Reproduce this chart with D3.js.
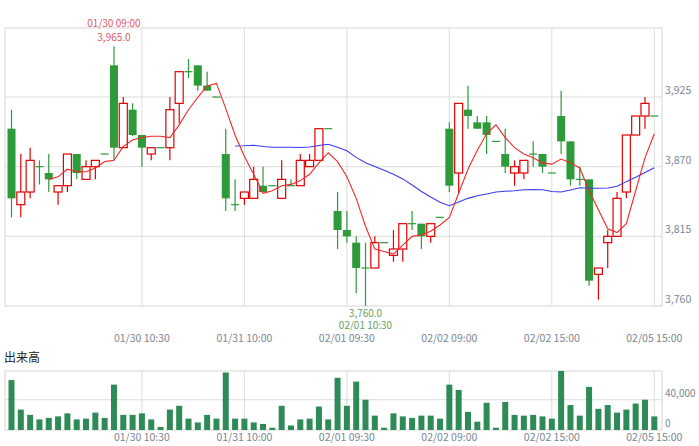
<!DOCTYPE html>
<html><head><meta charset="utf-8">
<script src="https://cdn.jsdelivr.net/npm/d3@7"></script>
<style>body{margin:0;background:#fff}text{font-family:"Noto Sans CJK JP","DejaVu Sans",sans-serif}</style>
</head><body><svg id="c" width="699" height="446"></svg>
<script>
const opens  = [3900,3840,3850,3870,3865,3850,3855,3880,3860,3870,3880,3950,3885,3915,3895,3880,3885,3885,3920,3945,3950,3934,3925,3880,3840,3845,3845,3855,3855,3845,3855,3855,3870,3875,3900,3835,3820,3810,3790,3790,3810,3800,3805,3825,3825,3815,3830,3900,3865,3915,3905,3905,3890,3880,3865,3865,3880,3880,3865,3910,3890,3860,3860,3785,3810,3815,3850,3895,3910,3910];
const highs  = [3915,3880,3885,3875,3880,3855,3880,3880,3875,3875,3880,3965,3925,3920,3895,3885,3885,3925,3945,3955,3950,3945,3925,3900,3860,3850,3870,3870,3855,3875,3860,3880,3880,3900,3900,3850,3835,3815,3810,3815,3810,3820,3825,3835,3825,3825,3830,3905,3920,3934,3910,3910,3890,3900,3875,3875,3890,3880,3865,3930,3890,3870,3860,3790,3820,3850,3895,3910,3925,3910];
const lows   = [3830,3830,3845,3856,3850,3840,3850,3860,3860,3860,3880,3875,3885,3894,3870,3875,3885,3875,3904,3940,3930,3930,3925,3835,3835,3840,3845,3850,3855,3845,3855,3855,3870,3875,3900,3805,3810,3770,3760,3790,3810,3795,3795,3820,3805,3810,3830,3850,3849,3900,3900,3880,3890,3865,3855,3860,3870,3865,3865,3880,3855,3855,3776,3765,3790,3815,3845,3895,3900,3910];
const closes = [3845,3850,3875,3870,3860,3855,3880,3865,3870,3875,3880,3885,3920,3895,3885,3885,3885,3915,3945,3945,3934,3930,3925,3845,3840,3850,3860,3850,3855,3860,3855,3875,3875,3900,3900,3820,3815,3790,3790,3810,3810,3805,3825,3825,3815,3825,3830,3855,3920,3910,3900,3895,3890,3870,3870,3875,3880,3870,3865,3890,3860,3860,3780,3790,3815,3845,3895,3910,3920,3910];
const volumes = [66000,27000,20000,14000,16000,18000,22000,14000,15000,23000,16000,60000,20000,20000,22000,14000,4000,27000,32000,15000,10000,20000,15000,76000,15000,15000,10000,8000,3000,32000,6000,14000,15000,31000,14000,69000,32000,64000,40000,19000,3000,22000,18000,16000,19000,19000,15000,60000,53000,24000,11000,36000,3000,37000,20000,19000,20000,18000,15000,78000,33000,19000,57000,28000,33000,23000,27000,35000,40000,18000];
const tickIdx = [14,25,36,47,58,69];
const tickLabels = ["01/30 10:30","01/31 10:00","02/01 09:30","02/02 09:00","02/02 15:00","02/05 15:00"];
const priceTicks = [3760,3815,3870,3925];
const volTicks = [0,40000];

function sma(n){return closes.map((c,i)=> i<n-1?null:d3.mean(closes.slice(i-n+1,i+1)));}
const ma5=sma(5), ma25=sma(25);

const svg=d3.select("#c");
const L=5,R=662,T=28,B=306,VT=371,VB=430;
const x=d3.scalePoint().domain(d3.range(70)).range([11.5,654.3]);
const y=d3.scaleLinear().domain([3760,3979.5]).range([B,T]);
const yv=d3.scaleLinear().domain([0,78000]).range([VB,VT]);
const grid="#dcdcdc", lab="#7a8696";

priceTicks.slice(1).forEach(v=>svg.append("line").attr("x1",L).attr("x2",R).attr("y1",y(v)).attr("y2",y(v)).attr("stroke",grid));
tickIdx.forEach(i=>{svg.append("line").attr("x1",x(i)).attr("x2",x(i)).attr("y1",T).attr("y2",B).attr("stroke",grid);
 svg.append("line").attr("x1",x(i)).attr("x2",x(i)).attr("y1",VT).attr("y2",VB).attr("stroke",grid);});
svg.append("rect").attr("x",L).attr("y",T).attr("width",R-L).attr("height",B-T).attr("fill","none").attr("stroke",grid).attr("stroke-width",1.2);
svg.append("line").attr("x1",L).attr("x2",R).attr("y1",yv(40000)).attr("y2",yv(40000)).attr("stroke",grid);
svg.append("rect").attr("x",L).attr("y",VT).attr("width",R-L).attr("height",VB-VT).attr("fill","none").attr("stroke",grid).attr("stroke-width",1.2);

priceTicks.forEach(v=>svg.append("text").attr("x",665).attr("y",y(v)-3).attr("font-size",10.5).attr("fill",lab).text(d3.format(",")(v)));
volTicks.forEach(v=>svg.append("text").attr("x",665).attr("y",yv(v)-3).attr("font-size",10).attr("fill",lab).text(d3.format(",")(v)));
tickIdx.forEach((i,k)=>{[342,441].forEach(yy=>svg.append("text").attr("x",x(i)).attr("y",yy).attr("text-anchor","middle").attr("font-size",10.5).attr("fill",lab).text(tickLabels[k]));});
svg.append("text").attr("x",4).attr("y",362).attr("font-size",12).attr("fill","#222").text("出来高");

const G="#2e9a3a", Rd="#e00000";
const g=svg.append("g");
opens.forEach((o,i)=>{
 const c=closes[i], up=c>o, col=up?Rd:G, cx=x(i);
 if(highs[i]>lows[i]) g.append("line").attr("x1",cx).attr("x2",cx).attr("y1",y(highs[i])).attr("y2",y(lows[i])).attr("stroke",col).attr("stroke-width",1.2);
 const top=y(Math.max(o,c)), h=Math.abs(y(o)-y(c));
 if(h<1.5){g.append("line").attr("x1",cx-4).attr("x2",cx+4).attr("y1",top).attr("y2",top).attr("stroke",col).attr("stroke-width",1.2);}
 else g.append("rect").attr("x",cx-4).attr("y",top).attr("width",8).attr("height",h).attr("fill",up?"#fff":G).attr("stroke",up?Rd:"none").attr("stroke-width",1.2);
});
const line=d3.line().defined(d=>d!=null).x((d,i)=>x(i)).y(d=>y(d));
svg.append("path").attr("d",line(ma25)).attr("fill","none").attr("stroke","#3a3af0").attr("stroke-width",1.1);
svg.append("path").attr("d",line(ma5)).attr("fill","none").attr("stroke","#f02828").attr("stroke-width",1.1);

svg.append("g").selectAll("rect").data(volumes).join("rect").attr("x",(d,i)=>x(i)-3).attr("y",d=>yv(d)).attr("width",6).attr("height",d=>VB-yv(d)).attr("fill","#2e8b57");

const hi=d3.maxIndex(highs), lo=d3.minIndex(lows);
svg.append("text").attr("x",x(hi)).attr("y",27).attr("text-anchor","middle").attr("font-size",10).attr("fill","#e05a6a").text("01/30 09:00");
svg.append("text").attr("x",x(hi)).attr("y",41).attr("text-anchor","middle").attr("font-size",10).attr("fill","#e05a6a").text(d3.format(",.1f")(highs[hi]));
svg.append("text").attr("x",x(lo)).attr("y",317).attr("text-anchor","middle").attr("font-size",10).attr("fill","#6aa060").text(d3.format(",.1f")(lows[lo]));
svg.append("text").attr("x",x(lo)).attr("y",329).attr("text-anchor","middle").attr("font-size",10).attr("fill","#6aa060").text("02/01 10:30");
</script></body></html>
